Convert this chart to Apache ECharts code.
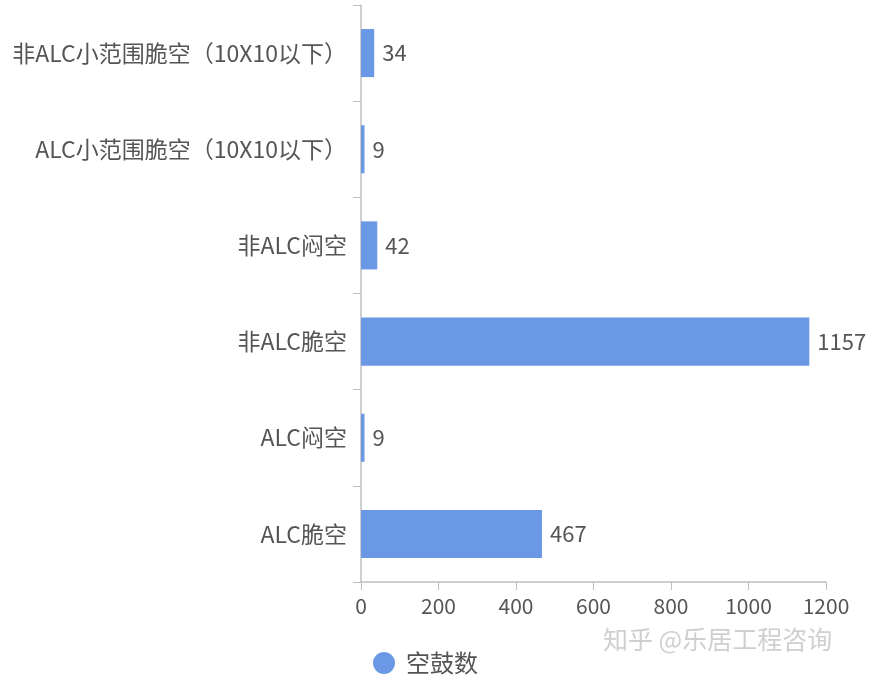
<!DOCTYPE html>
<html><head><meta charset="utf-8">
<script src="https://cdn.jsdelivr.net/npm/echarts@6/dist/echarts.min.js"></script>
<style>html,body{margin:0;padding:0;background:#fff}#c{width:883px;height:678px}</style>
</head><body><div id="c"></div>
<script>
const categories = ['ALC脆空','ALC闷空','非ALC脆空','非ALC闷空','ALC小范围脆空（10X10以下）','非ALC小范围脆空（10X10以下）'];
const values = [467, 9, 1157, 42, 9, 34];
const seriesName = '空鼓数';
const xTicks = [0, 200, 400, 600, 800, 1000, 1200];
const watermark = '知乎 @乐居工程咨询';
const font = '"Noto Sans CJK SC", sans-serif';
const chart = echarts.init(document.getElementById('c'));
chart.setOption({
  animation: false,
  grid: {left: 361, right: 57, top: 5, bottom: 96, containLabel: false},
  legend: {
    data: [seriesName], left: 368, top: 646, icon: 'circle', itemWidth: 22, itemHeight: 22, itemGap: 8,
    textStyle: {fontFamily: font, fontSize: 24, color: '#555', padding: [0, 0, 0, 6]}
  },
  graphic: [{type: 'text', left: 603, top: 627, style: {text: watermark, fontFamily: font, fontSize: 25, fill: '#cfcfcf'}}],
  xAxis: {
    type: 'value', min: xTicks[0], max: xTicks[xTicks.length-1], interval: 200,
    axisLine: {show: true, lineStyle: {color: '#bfbfbf', width: 1.5}},
    axisTick: {show: true, length: 8, lineStyle: {color: '#bfbfbf'}},
    splitLine: {show: false},
    axisLabel: {fontFamily: font, fontSize: 21, color: '#555', margin: 14, formatter: v => String(v)}
  },
  yAxis: {
    type: 'category', data: categories,
    axisLine: {show: true, lineStyle: {color: '#bfbfbf', width: 1.5}},
    axisTick: {show: true, length: 8, lineStyle: {color: '#bfbfbf'}},
    axisLabel: {fontFamily: font, fontSize: 23, color: '#555', margin: 14}
  },
  series: [{
    name: seriesName, type: 'bar', data: values, barWidth: '50%',
    itemStyle: {color: '#6a98e4'},
    label: {show: true, position: 'right', distance: 8, fontFamily: font, fontSize: 22, color: '#555'}
  }]
});
</script></body></html>
